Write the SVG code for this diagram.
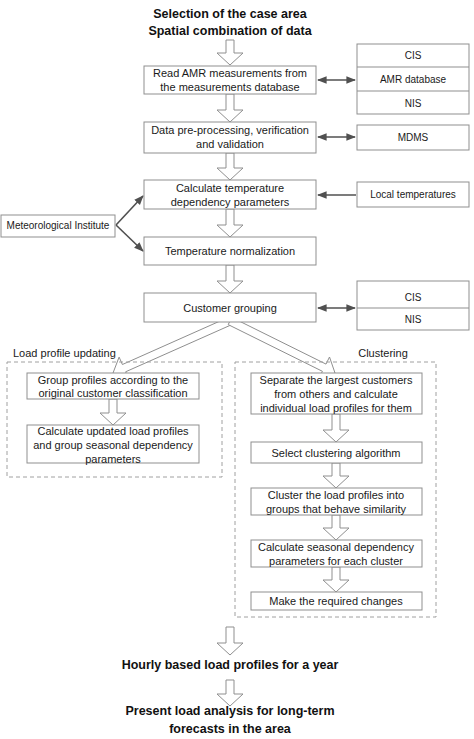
<svg xmlns="http://www.w3.org/2000/svg" width="474" height="739" viewBox="0 0 474 739">
<defs>
<style>
.box{fill:#fff;stroke:#8f8f8f;stroke-width:1}
.dash{fill:none;stroke:#a0a0a0;stroke-width:1;stroke-dasharray:4 3}
.t{font-family:"Liberation Sans",Arial,sans-serif;font-size:11px;fill:#1a1a1a;text-anchor:middle}
.s{font-family:"Liberation Sans",Arial,sans-serif;font-size:10px;fill:#1a1a1a;text-anchor:middle}
.h{font-family:"Liberation Sans",Arial,sans-serif;font-size:12.5px;font-weight:bold;fill:#111;text-anchor:middle}
.lbl{font-family:"Liberation Sans",Arial,sans-serif;font-size:11px;fill:#1a1a1a}
.fat{fill:#fff;stroke:#8f8f8f;stroke-width:1;stroke-linejoin:miter}
.con{fill:none;stroke:#505050;stroke-width:1.6}
</style>
<marker id="ah" viewBox="0 0 10 10" refX="9" refY="5" markerWidth="6" markerHeight="6" orient="auto-start-reverse" markerUnits="strokeWidth">
<path d="M0,1 L10,5 L0,9 Z" fill="#505050"/>
</marker>
</defs>

<g id="title">
<text class="h" x="230" y="17.5">Selection of the case area</text>
<text class="h" x="230" y="34.5">Spatial combination of data</text>
</g>

<g id="connectors">
<polygon class="fat" points="226,40 234,40 234,53 243,53 230,65 217,53 226,53"/>
<polygon class="fat" points="226,94 234,94 234,110 243,110 230,122 217,110 226,110"/>
<polygon class="fat" points="226,153 234,153 234,168 243,168 230,180 217,168 226,168"/>
<polygon class="fat" points="226,209 234,209 234,225 243,225 230,237 217,225 226,225"/>
<polygon class="fat" points="226,265 234,265 234,281 243,281 230,293 217,281 226,281"/>
<polygon class="fat" points="231.6,324.7 125.6,371.8 128.9,379.1 113,373 119.1,357.1 122.4,364.5 228.4,317.3"/>
<polygon class="fat" points="228.2,324.6 322.4,371.3 318.9,378.5 335,373 329.5,357 326,364.1 231.8,317.4"/>
<polygon class="fat" points="109,399 117,399 117,413 126,413 113,425 100,413 109,413"/>
<polygon class="fat" points="332,414 340,414 340,430 349,430 336,442 323,430 332,430"/>
<polygon class="fat" points="332,463 340,463 340,476 349,476 336,488 323,476 332,476"/>
<polygon class="fat" points="332,515 340,515 340,528 349,528 336,540 323,528 332,528"/>
<polygon class="fat" points="332,567 340,567 340,580 349,580 336,592 323,580 332,580"/>
<polygon class="fat" points="226,627 234,627 234,643 243,643 230,655 217,643 226,643"/>
<polygon class="fat" points="226,680 234,680 234,694 243,694 230,706 217,694 226,694"/>
<line class="con" x1="318" y1="80" x2="355" y2="80" marker-start="url(#ah)" marker-end="url(#ah)"/>
<line class="con" x1="318" y1="137" x2="355" y2="137" marker-start="url(#ah)" marker-end="url(#ah)"/>
<line class="con" x1="356" y1="195" x2="318" y2="195" marker-end="url(#ah)"/>
<line class="con" x1="318" y1="308" x2="355" y2="308" marker-start="url(#ah)" marker-end="url(#ah)"/>
<line class="con" x1="116" y1="225" x2="143" y2="196" marker-end="url(#ah)"/>
<line class="con" x1="116" y1="225" x2="143" y2="251" marker-end="url(#ah)"/>
</g>

<g id="box1">
<rect class="box" x="144" y="66" width="172" height="28"/>
<text class="t" x="230" y="76.5">Read AMR measurements from</text>
<text class="t" x="230" y="90.5">the measurements database</text>
</g>
<g id="stack1">
<rect class="box" x="357" y="44" width="112" height="70"/>
<line class="box" x1="357" y1="67" x2="469" y2="67"/>
<line class="box" x1="357" y1="91" x2="469" y2="91"/>
<text class="s" x="413" y="59">CIS</text>
<text class="s" x="413" y="82.5">AMR database</text>
<text class="s" x="413" y="106.5">NIS</text>
</g>
<g id="box2">
<rect class="box" x="144" y="122" width="172" height="31"/>
<text class="t" x="230" y="134">Data pre-processing, verification</text>
<text class="t" x="230" y="148">and validation</text>
</g>
<g id="mdms">
<rect class="box" x="357" y="125" width="112" height="25"/>
<text class="s" x="413" y="141">MDMS</text>
</g>
<g id="box3">
<rect class="box" x="144" y="180" width="172" height="29"/>
<text class="t" x="230" y="192">Calculate temperature</text>
<text class="t" x="230" y="206">dependency parameters</text>
</g>
<g id="localtemp">
<rect class="box" x="357" y="182" width="112" height="25"/>
<text class="s" x="413" y="198">Local temperatures</text>
</g>
<g id="meteo">
<rect class="box" x="1" y="215" width="114" height="22"/>
<text class="s" x="58" y="229">Meteorological Institute</text>
</g>
<g id="box4">
<rect class="box" x="144" y="237" width="172" height="28"/>
<text class="t" x="230" y="255">Temperature normalization</text>
</g>
<g id="box5">
<rect class="box" x="144" y="293" width="172" height="29"/>
<text class="t" x="230" y="312">Customer grouping</text>
</g>
<g id="stack2">
<rect class="box" x="357" y="281" width="112" height="49"/>
<line class="box" x1="357" y1="308" x2="469" y2="308"/>
<text class="s" x="413" y="300.5">CIS</text>
<text class="s" x="413" y="322.5">NIS</text>
</g>

<g id="lpu">
<rect class="dash" x="7" y="362" width="215" height="115"/>
<text class="lbl" x="13" y="357">Load profile updating</text>
</g>
<g id="group">
<rect class="box" x="27" y="373" width="172" height="26"/>
<text class="t" x="113" y="383.5">Group profiles according to the</text>
<text class="t" x="113" y="397">original customer classification</text>
</g>
<g id="calcupd">
<rect class="box" x="27" y="425" width="172" height="38"/>
<text class="t" x="113" y="434.5">Calculate updated load profiles</text>
<text class="t" x="113" y="448.5">and group seasonal dependency</text>
<text class="t" x="113" y="462.5">parameters</text>
</g>

<g id="clustering">
<rect class="dash" x="235" y="362" width="201" height="255"/>
<text class="t" x="383" y="357">Clustering</text>
</g>
<g id="separate">
<rect class="box" x="251" y="373" width="171" height="41"/>
<text class="t" x="336" y="383.5">Separate the largest customers</text>
<text class="t" x="336" y="398">from others and calculate</text>
<text class="t" x="336" y="412">individual load profiles for them</text>
</g>
<g id="select">
<rect class="box" x="251" y="442" width="171" height="21"/>
<text class="t" x="336" y="456.5">Select clustering algorithm</text>
</g>
<g id="cluster">
<rect class="box" x="251" y="488" width="171" height="27"/>
<text class="t" x="336" y="499">Cluster the load profiles into</text>
<text class="t" x="336" y="512.5">groups that behave similarity</text>
</g>
<g id="calcseas">
<rect class="box" x="251" y="540" width="171" height="27"/>
<text class="t" x="336" y="551">Calculate seasonal dependency</text>
<text class="t" x="336" y="565">parameters for each cluster</text>
</g>
<g id="make">
<rect class="box" x="251" y="592" width="171" height="18"/>
<text class="t" x="336" y="605">Make the required changes</text>
</g>

<g id="hourly">
<text class="h" x="230" y="668.5">Hourly based load profiles for a year</text>
</g>
<g id="present">
<text class="h" x="230" y="714.5">Present load analysis for long-term</text>
<text class="h" x="230" y="732.5">forecasts in the area</text>
</g>
</svg>
